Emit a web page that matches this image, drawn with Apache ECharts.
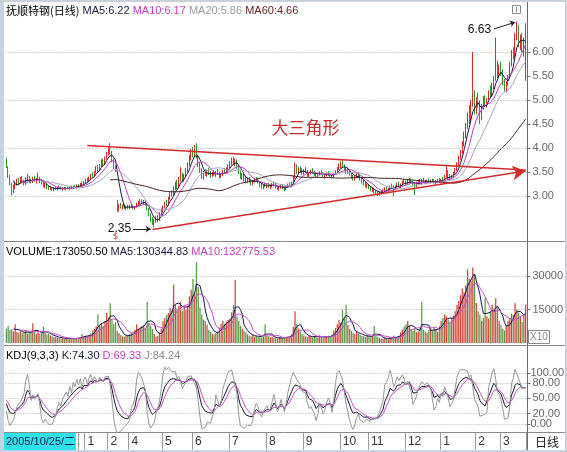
<!DOCTYPE html>
<html>
<head>
<meta charset="utf-8">
<title>抚顺特钢 日线</title>
<script src="https://cdn.jsdelivr.net/npm/echarts@6/dist/echarts.min.js"></script>
<style>
  html, body { margin: 0; padding: 0; background: #fff; }
  #chart { width: 567px; height: 452px; }
</style>
</head>
<body>
<div id="chart"></div>
<script>
// month blocks of the bottom date bar (index of first bar, label)
const monthStarts = [0, 5, 25, 45, 58, 70, 89, 106, 127, 148, 169, 190, 206, 227, 247, 267, 281];
const monthLabels = ['', '', '', '1', '2', '4', '5', '6', '7', '8', '9', '10', '11', '12', '1', '2', '3'];

// daily bars, 2005/10/25 .. 2007/03
const opens = [
  3.76,3.60,3.40,3.24,3.10,3.20,3.26,3.33,3.27,3.36, 3.30,3.25,3.35,3.40,3.31,3.29,3.37,3.33,3.35,3.38,
  3.30,3.26,3.22,3.24,3.18,3.15,3.17,3.13,3.16,3.15, 3.18,3.17,3.14,3.16,3.15,3.17,3.15,3.19,3.16,3.20,
  3.18,3.22,3.20,3.25,3.23,3.29,3.33,3.30,3.38,3.44, 3.41,3.50,3.58,3.53,3.64,3.72,3.66,3.80,3.88,3.96,
  3.90,3.74,3.60,2.80,2.72,2.80,2.76,2.79,2.75,2.78, 2.76,2.79,2.77,2.74,2.78,2.84,2.87,2.90,2.86,2.89,
  2.82,2.72,2.60,2.50,2.44,2.48,2.55,2.50,2.64,2.70, 2.77,2.85,2.82,2.95,3.05,3.02,3.16,3.26,3.18,3.36,
  3.42,3.32,3.44,3.55,3.66,3.80,3.90,3.85,3.96,3.82, 3.64,3.52,3.40,3.48,3.45,3.52,3.47,3.42,3.48,3.45,
  3.50,3.46,3.40,3.46,3.52,3.49,3.57,3.63,3.68,3.76, 3.70,3.74,3.60,3.50,3.40,3.44,3.34,3.30,3.35,3.31,
  3.25,3.30,3.35,3.32,3.28,3.21,3.18,3.22,3.20,3.24, 3.19,3.22,3.25,3.23,3.18,3.15,3.18,3.21,3.16,3.14,
  3.20,3.23,3.20,3.28,3.38,3.62,3.50,3.56,3.52,3.47, 3.53,3.50,3.43,3.48,3.52,3.49,3.45,3.41,3.46,3.50,
  3.47,3.40,3.44,3.47,3.45,3.42,3.39,3.46,3.52,3.58, 3.64,3.68,3.62,3.55,3.50,3.54,3.45,3.39,3.35,3.40,
  3.45,3.41,3.34,3.29,3.25,3.20,3.22,3.16,3.12,3.15, 3.08,3.06,3.04,3.08,3.06,3.12,3.15,3.13,3.15,3.20,
  3.18,3.14,3.20,3.25,3.22,3.24,3.30,3.28,3.25,3.31, 3.34,3.28,3.24,3.20,3.27,3.30,3.34,3.32,3.30,3.27,
  3.31,3.29,3.32,3.30,3.28,3.31,3.33,3.30,3.34,3.32, 3.40,3.48,3.40,3.36,3.42,3.46,3.55,3.66,3.80,3.92,
  4.10,4.28,4.46,4.68,4.62,4.94,5.10,4.80,4.98,4.90, 4.62,4.88,5.02,4.92,5.00,5.16,5.12,5.30,5.44,5.70,
  5.52,5.68,5.56,5.36,5.24,5.34,5.48,5.76,5.98,5.92, 6.36,6.44,6.18,6.30,6.08,6.22
];
const highs = [
  3.80,3.62,3.44,3.28,3.24,3.30,3.36,3.38,3.40,3.42, 3.34,3.38,3.46,3.42,3.36,3.40,3.42,3.38,3.48,3.40,
  3.36,3.30,3.28,3.26,3.22,3.20,3.19,3.18,3.20,3.19, 3.22,3.20,3.18,3.19,3.18,3.19,3.20,3.22,3.21,3.23,
  3.24,3.25,3.27,3.30,3.31,3.36,3.38,3.40,3.46,3.50, 3.52,3.62,3.64,3.66,3.76,3.78,3.82,3.92,4.02,4.10,
  3.94,3.78,3.64,2.92,2.84,2.86,2.82,2.83,2.80,2.82, 2.81,2.84,2.80,2.79,2.86,2.90,2.94,2.93,2.92,2.91,
  2.85,2.75,2.64,2.56,2.52,2.58,2.60,2.66,2.74,2.80, 2.88,2.92,2.98,3.08,3.12,3.20,3.30,3.34,3.40,3.60,
  3.48,3.46,3.58,3.70,3.86,3.98,4.02,4.06,4.10,3.86, 3.70,3.58,3.52,3.56,3.54,3.58,3.52,3.50,3.54,3.52,
  3.56,3.50,3.48,3.55,3.58,3.60,3.66,3.72,3.80,3.82, 3.78,3.76,3.64,3.54,3.48,3.46,3.40,3.38,3.40,3.34,
  3.32,3.38,3.40,3.38,3.30,3.26,3.24,3.28,3.26,3.28, 3.24,3.27,3.30,3.28,3.22,3.20,3.24,3.25,3.20,3.22,
  3.26,3.28,3.30,3.42,3.70,3.66,3.60,3.62,3.58,3.56, 3.60,3.54,3.50,3.55,3.58,3.53,3.50,3.48,3.52,3.54,
  3.50,3.46,3.49,3.52,3.48,3.46,3.48,3.54,3.60,3.68, 3.72,3.76,3.66,3.60,3.58,3.56,3.48,3.44,3.42,3.48,
  3.50,3.44,3.38,3.34,3.30,3.26,3.25,3.20,3.18,3.17, 3.12,3.10,3.10,3.12,3.14,3.18,3.20,3.17,3.22,3.26,
  3.22,3.22,3.28,3.30,3.26,3.32,3.36,3.32,3.34,3.38, 3.36,3.32,3.28,3.30,3.34,3.36,3.36,3.38,3.34,3.33,
  3.36,3.34,3.36,3.35,3.33,3.36,3.38,3.36,3.40,3.44, 3.62,3.54,3.46,3.44,3.50,3.58,3.70,3.84,3.96,4.14,
  4.34,4.52,4.74,4.90,5.00,6.00,5.20,5.05,5.16,5.00, 4.92,5.08,5.10,5.04,5.20,5.30,5.36,5.50,6.30,5.82,
  5.74,5.80,5.64,5.44,5.40,5.52,5.80,6.04,6.10,6.40, 6.63,6.56,6.36,6.40,6.30,6.60
];
const lows = [
  3.58,3.38,3.22,3.02,3.06,3.14,3.22,3.24,3.25,3.28, 3.22,3.23,3.30,3.28,3.26,3.27,3.30,3.26,3.32,3.27,
  3.24,3.18,3.16,3.14,3.12,3.12,3.11,3.10,3.13,3.12, 3.15,3.13,3.11,3.13,3.12,3.14,3.13,3.15,3.14,3.17,
  3.16,3.18,3.19,3.21,3.22,3.26,3.28,3.29,3.34,3.38, 3.40,3.47,3.50,3.52,3.60,3.62,3.64,3.76,3.84,3.86,
  3.70,3.56,3.50,2.66,2.68,2.74,2.72,2.73,2.71,2.73, 2.72,2.75,2.72,2.71,2.76,2.80,2.83,2.84,2.82,2.80,
  2.70,2.58,2.46,2.40,2.35,2.44,2.45,2.48,2.60,2.66, 2.74,2.78,2.80,2.92,2.98,3.00,3.12,3.14,3.16,3.30,
  3.28,3.30,3.40,3.50,3.62,3.74,3.80,3.82,3.78,3.60, 3.48,3.36,3.34,3.42,3.40,3.44,3.38,3.40,3.42,3.40,
  3.44,3.36,3.38,3.42,3.46,3.47,3.54,3.58,3.64,3.66, 3.62,3.56,3.46,3.36,3.34,3.30,3.26,3.27,3.28,3.22,
  3.22,3.28,3.30,3.26,3.18,3.15,3.14,3.18,3.16,3.17, 3.14,3.18,3.20,3.16,3.12,3.11,3.15,3.14,3.10,3.12,
  3.17,3.18,3.19,3.26,3.36,3.46,3.46,3.48,3.44,3.44, 3.48,3.40,3.40,3.45,3.46,3.42,3.38,3.39,3.43,3.44,
  3.38,3.36,3.41,3.42,3.38,3.36,3.37,3.44,3.48,3.54, 3.58,3.60,3.52,3.46,3.46,3.42,3.36,3.32,3.32,3.38,
  3.38,3.32,3.26,3.22,3.18,3.16,3.14,3.10,3.08,3.05, 3.02,3.00,3.01,3.03,3.04,3.08,3.10,3.08,3.12,3.16,
  3.00,3.12,3.18,3.20,3.16,3.22,3.26,3.22,3.23,3.28, 3.26,3.22,3.02,3.18,3.24,3.25,3.24,3.28,3.24,3.25,
  3.27,3.26,3.28,3.26,3.24,3.28,3.28,3.26,3.30,3.30, 3.38,3.36,3.32,3.34,3.38,3.44,3.52,3.62,3.76,3.88,
  4.04,4.20,4.40,4.50,4.58,4.86,4.70,4.70,4.84,4.50, 4.58,4.80,4.86,4.84,4.96,5.06,5.08,5.22,5.40,5.46,
  5.48,5.50,5.30,5.18,5.16,5.30,5.44,5.70,5.84,5.88, 6.24,6.10,6.04,6.00,5.90,5.40
];
const closes = [
  3.62,3.42,3.26,3.10,3.20,3.26,3.33,3.27,3.36,3.30, 3.25,3.35,3.40,3.31,3.29,3.37,3.33,3.35,3.38,3.30,
  3.26,3.22,3.24,3.18,3.15,3.17,3.13,3.16,3.15,3.18, 3.17,3.14,3.16,3.15,3.17,3.15,3.19,3.16,3.20,3.18,
  3.22,3.20,3.25,3.23,3.29,3.33,3.30,3.38,3.44,3.41, 3.50,3.58,3.53,3.64,3.72,3.66,3.80,3.88,3.96,3.90,
  3.74,3.60,3.55,2.72,2.80,2.76,2.79,2.75,2.78,2.76, 2.79,2.77,2.74,2.78,2.84,2.87,2.90,2.86,2.89,2.82,
  2.72,2.60,2.50,2.44,2.48,2.55,2.50,2.64,2.70,2.77, 2.85,2.82,2.95,3.05,3.02,3.16,3.26,3.18,3.36,3.42,
  3.32,3.44,3.55,3.66,3.80,3.90,3.85,3.96,3.82,3.64, 3.52,3.40,3.48,3.45,3.52,3.47,3.42,3.48,3.45,3.50,
  3.46,3.40,3.46,3.52,3.49,3.57,3.63,3.68,3.76,3.70, 3.74,3.60,3.50,3.40,3.44,3.34,3.30,3.35,3.31,3.25,
  3.30,3.35,3.32,3.28,3.21,3.18,3.22,3.20,3.24,3.19, 3.22,3.25,3.23,3.18,3.15,3.18,3.21,3.16,3.14,3.20,
  3.23,3.20,3.28,3.38,3.62,3.50,3.56,3.52,3.47,3.53, 3.50,3.43,3.48,3.52,3.49,3.45,3.41,3.46,3.50,3.47,
  3.40,3.44,3.47,3.45,3.42,3.39,3.46,3.52,3.58,3.64, 3.68,3.62,3.55,3.50,3.54,3.45,3.39,3.35,3.40,3.45,
  3.41,3.34,3.29,3.25,3.20,3.22,3.16,3.12,3.15,3.08, 3.06,3.04,3.08,3.06,3.12,3.15,3.13,3.15,3.20,3.18,
  3.14,3.20,3.25,3.22,3.24,3.30,3.28,3.25,3.31,3.34, 3.28,3.24,3.20,3.27,3.30,3.28,3.32,3.30,3.27,3.31,
  3.29,3.32,3.30,3.28,3.31,3.33,3.30,3.34,3.32,3.40, 3.48,3.40,3.36,3.42,3.46,3.55,3.66,3.80,3.92,4.10,
  4.28,4.46,4.68,4.62,4.94,5.10,4.80,4.98,4.90,4.62, 4.88,5.02,4.92,5.00,5.16,5.12,5.30,5.44,5.70,5.52,
  5.68,5.56,5.36,5.24,5.34,5.48,5.76,5.98,5.92,6.36, 6.44,6.18,6.30,6.08,6.22,6.32
];
// volume in the axis unit (x10)
const volumes = [
  6500,7700,5800,6200,5200,8400,5000,4600,5400,4400, 4800,5600,4200,4600,5000,8900,5200,4300,4800,4000,
  4400,7300,4600,3800,4200,3400,3000,2600,2800,2400, 2200,2000,2300,1900,2100,1800,2000,1700,2200,1900,
  2400,2100,2600,4000,2800,3300,3000,3600,4200,5600, 6300,7400,12800,8000,9000,7600,9900,13500,11300,17900,
  10200,8400,9500,5500,4400,3600,3000,2800,3300,3600, 3800,4500,5200,6000,8400,6400,7000,7600,8000,6800,
  18600,9000,7700,6200,4000,2800,3200,4500,6400,9900, 11200,12600,13500,15800,14600,26200,17200,15400,16800,18400,
  14300,16200,15000,16600,21000,24000,28800,22500,36400,25200, 16000,12800,10500,9900,8200,6000,5000,4200,3800,4500,
  5200,7000,8600,9900,8800,9600,10400,11000,13800,17000, 28500,12000,9900,7800,6400,5500,4800,3800,3400,3000,
  3600,2800,3200,2600,3400,2400,3000,8400,3400,3000, 2600,2800,2400,2200,2000,2600,2300,2100,2500,2800,
  3000,2600,4000,7200,14300,8600,6500,5200,4000,3400, 3000,2700,3200,2900,2500,3100,2800,2400,3500,2600,
  2300,2900,2700,3300,3000,3800,5500,6800,8400,10500, 9000,15000,11000,17200,8200,6400,5500,4600,4000,5200,
  4300,3600,3200,3000,2800,3400,3000,2600,3200,7700, 3600,2600,2200,2000,1800,2400,2100,1700,2600,2200,
  3300,2800,2400,3000,4800,6000,7400,8400,9900,7600, 6400,5500,6800,4800,5200,6300,18600,6000,5200,4600,
  5800,6600,5400,7000,6200,5000,7600,9900,11200,12800, 12000,10500,9600,11000,12400,14300,17200,19000,21500,24500,
  22800,26000,33200,29000,28000,34000,31000,18000,14300,12800, 9900,11300,20500,12000,11000,14300,17200,15600,20100,16000,
  9900,8200,6400,5600,7800,9900,11300,13200,12600,17900, 15200,13600,11800,9400,13200,17305
];

const priceTicks = [3, 3.5, 4, 4.5, 5, 5.5, 6];
const priceGridLines = [3, 4, 5, 6];
const volTicks = [15000, 30000];
const kdjTicks = [0, 20, 50, 80, 100];
const kdjInner = [20, 50, 80];
const kdjOuter = [0, 100];

// hand drawn triangle on the picture: [bar, price] -> [bar, price]
const upperTrend = [[46, 4.05], [295, 3.54]];
const lowerTrend = [[83, 2.30], [295, 3.52]];

const UP = '#e02828', DOWN = '#2a9a2a';

function ma(src, n) {
  return src.map((v, i) => {
    if (i < n - 1) return '-';
    let s = 0;
    for (let k = i - n + 1; k <= i; k++) s += src[k];
    return +(s / n).toFixed(3);
  });
}

function calcKdj(n, m1, m2) {
  let k = 50, d = 50;
  const K = [], D = [], J = [];
  for (let i = 0; i < closes.length; i++) {
    const from = Math.max(0, i - n + 1);
    const hh = Math.max(...highs.slice(from, i + 1));
    const ll = Math.min(...lows.slice(from, i + 1));
    const rsv = hh === ll ? 50 : (closes[i] - ll) / (hh - ll) * 100;
    k = ((m1 - 1) * k + rsv) / m1;
    d = ((m2 - 1) * d + k) / m2;
    K.push(+k.toFixed(2));
    D.push(+d.toFixed(2));
    J.push(+(3 * k - 2 * d).toFixed(2));
  }
  return [K, D, J];
}

const cats = closes.map((_, i) => String(i));
const candles = closes.map((c, i) => [opens[i], c, lows[i], highs[i]]);
const [kLine, dLine, jLine] = calcKdj(9, 3, 3);

function header(y, parts) {
  const rich = {};
  const text = parts.map((p, i) => {
    rich['p' + i] = { fill: p[1], fontSize: p[2] || 11, fontFamily: p[3] || 'Liberation Sans' };
    return '{p' + i + '|' + p[0] + '}';
  }).join(' ');
  return {
    type: 'text', x: 6, y: y, z: 50,
    style: { text: text, rich: rich, fontSize: 11, fontFamily: 'Liberation Sans', verticalAlign: 'middle' }
  };
}

function hLine(y, x1, x2, color) {
  return { type: 'line', z: 40, shape: { x1: x1, y1: y, x2: x2, y2: y }, style: { stroke: color || '#8a8a8a', lineWidth: 1 } };
}

function dotted(values) {
  return values.map(v => ({ yAxis: v, symbol: 'none', label: { show: false },
    lineStyle: { color: '#a8a8a8', type: [1, 2], width: 1 } }));
}

const hiddenX = (g) => ({ type: 'category', gridIndex: g, data: cats, boundaryGap: true, show: false });
const rightY = (g, min, max, ticks, fmt, margin) => ({
  type: 'value', gridIndex: g, min: min, max: max, position: 'right',
  axisLine: { show: false },
  splitLine: { show: false },
  axisTick: { show: true, length: 4, customValues: ticks, lineStyle: { color: '#777' } },
  axisLabel: { customValues: ticks, formatter: fmt, hideOverlap: false, color: '#666', fontSize: 11,
    fontFamily: 'Liberation Sans', margin: margin || 6 }
});
const thin = (name, data, color, xi, yi) => ({
  name: name, type: 'line', xAxisIndex: xi, yAxisIndex: yi, data: data, showSymbol: false,
  lineStyle: { width: 1, color: color }, itemStyle: { color: color }, silent: true
});

const chart = echarts.init(document.getElementById('chart'));
chart.setOption({
  animation: false,
  backgroundColor: '#ffffff',
  grid: [
    { left: 5.5, width: 521, top: 4, height: 240, outerBoundsMode: 'none' },
    { left: 5.5, width: 521, top: 243, height: 100, outerBoundsMode: 'none' },
    { left: 5.5, width: 521, top: 347, height: 85, outerBoundsMode: 'none' },
    { left: 5.5, width: 521, top: 433, height: 17, outerBoundsMode: 'none' }
  ],
  xAxis: [
    hiddenX(0), hiddenX(1), hiddenX(2),
    {
      type: 'category', gridIndex: 3, data: cats, boundaryGap: true, position: 'top',
      axisLine: { show: false }, axisTick: { show: false },
      splitLine: { show: true, interval: (i) => monthStarts.indexOf(i) > 0, lineStyle: { color: '#9a9a9a', width: 1 } },
      axisLabel: {
        inside: true, margin: 3, align: 'left', padding: [0, 0, 0, 2],
        interval: (i) => monthStarts.indexOf(i) > 2,
        formatter: (v, i) => monthLabels[monthStarts.indexOf(i)] || '',
        color: '#333', fontSize: 12, fontFamily: 'Liberation Sans'
      }
    }
  ],
  yAxis: [
    rightY(0, 2, 7, priceTicks, v => v.toFixed(2)),
    rightY(1, 0, 45000, volTicks, v => String(v)),
    rightY(2, -16, 150.67, kdjInner, v => v.toFixed(2)),
    { type: 'value', gridIndex: 3, show: false },
    // second label set of the KDJ panel so that close labels are all kept
    rightY(2, -16, 150.67, kdjOuter, v => v.toFixed(2), 4)
  ],
  series: [
    {
      name: '日线', type: 'candlestick', xAxisIndex: 0, yAxisIndex: 0, data: candles,
      barWidth: '72%', silent: true,
      itemStyle: { color: UP, color0: DOWN, borderColor: UP, borderColor0: DOWN, borderWidth: 1 },
      markLine: {
        silent: true, symbol: 'none', animation: false,
        data: dotted(priceGridLines).concat([
          [
            { coord: upperTrend[0], symbol: 'none' },
            { coord: upperTrend[1], symbol: 'none', lineStyle: { color: '#d42a2a', width: 1.5, type: 'solid' }, label: { show: false } }
          ],
          [
            { coord: lowerTrend[0], symbol: 'none' },
            { coord: lowerTrend[1], symbol: 'arrow', symbolSize: [11, 13], lineStyle: { color: '#d42a2a', width: 1.5, type: 'solid' }, label: { show: false } }
          ],
          [
            { coord: [277, 6.48], symbol: 'none' },
            { coord: [289, 6.62], symbol: 'arrow', symbolSize: 5, lineStyle: { color: '#222', width: 1, type: 'solid' },
              label: { show: true, position: 'start', formatter: '6.63', color: '#111', fontSize: 12, fontFamily: 'Liberation Sans', distance: 3 } }
          ],
          [
            { coord: [72, 2.31], symbol: 'none' },
            { coord: [82, 2.31], symbol: 'arrow', symbolSize: 5, lineStyle: { color: '#222', width: 1, type: 'solid' },
              label: { show: true, position: 'start', formatter: '2.35', color: '#111', fontSize: 12, fontFamily: 'Liberation Sans', distance: 2 } }
          ]
        ])
      },
      markPoint: {
        silent: true, animation: false, symbol: 'circle', symbolSize: 0,
        data: [
          { coord: [170, 4.42], label: { show: true, position: 'inside', formatter: '大三角形', color: '#c42c28', fontSize: 17, fontFamily: 'Noto Sans CJK SC' } },
          { coord: [62, 2.15], label: { show: true, position: 'inside', formatter: '$', color: '#d03030', fontSize: 9, fontFamily: 'DejaVu Sans' } }
        ]
      }
    },
    thin('MA5', ma(closes, 5), '#151545', 0, 0),
    thin('MA10', ma(closes, 10), '#c23cc2', 0, 0),
    thin('MA20', ma(closes, 20), '#a8a2c2', 0, 0),
    thin('MA60', ma(closes, 60), '#4a2222', 0, 0),
    {
      name: 'VOLUME', type: 'bar', xAxisIndex: 1, yAxisIndex: 1, data: volumes, barWidth: '72%', silent: true,
      itemStyle: { color: (p) => closes[p.dataIndex] >= opens[p.dataIndex] ? '#d4463a' : '#5c9c4a' },
      markLine: { silent: true, symbol: 'none', animation: false, data: dotted(volTicks) }
    },
    thin('VMA5', ma(volumes, 5), '#151555', 1, 1),
    thin('VMA10', ma(volumes, 10), '#c450c8', 1, 1),
    Object.assign(thin('K', kLine, '#151535', 2, 2), {
      markLine: { silent: true, symbol: 'none', animation: false, data: dotted(kdjTicks) }
    }),
    thin('D', dLine, '#c450c8', 2, 2),
    thin('J', jLine, '#959595', 2, 2)
  ],
  graphic: [
    // outer frame
    { type: 'rect', z: 30, shape: { x: 0, y: 0, width: 4, height: 452 }, style: { fill: '#c5d2e4' } },
    { type: 'rect', z: 30, shape: { x: 0, y: 0, width: 567, height: 2 }, style: { fill: '#c9d0dc' } },
    { type: 'rect', z: 30, shape: { x: 0, y: 450, width: 567, height: 2 }, style: { fill: '#c5d2e4' } },
    { type: 'rect', z: 30, shape: { x: 565, y: 0, width: 2, height: 452 }, style: { fill: '#c9d0dc' } },
    // panel separators
    hLine(241.5, 4, 565), hLine(345.5, 4, 565), hLine(432.5, 4, 565),
    { type: 'line', z: 40, shape: { x1: 527.5, y1: 2, x2: 527.5, y2: 450 }, style: { stroke: '#6a6a6a', lineWidth: 1 } },
    // date box
    { type: 'rect', z: 45, shape: { x: 4, y: 433, width: 72, height: 17 }, style: { fill: '#2ee2ec' } },
    { type: 'line', z: 45, shape: { x1: 78.5, y1: 433, x2: 78.5, y2: 450 }, style: { stroke: '#9a9a9a', lineWidth: 1 } },
    { type: 'text', z: 46, x: 6, y: 442, style: { text: '2005/10/25/二', fill: '#10204a', fontSize: 11, fontFamily: 'Liberation Sans, Noto Sans CJK SC', verticalAlign: 'middle' } },
    { type: 'text', z: 46, x: 547, y: 442, style: { text: '日线', fill: '#222', fontSize: 12, fontFamily: 'Noto Sans CJK SC', align: 'center', verticalAlign: 'middle' } },
    // x10 box of the volume panel
    { type: 'rect', z: 45, shape: { x: 528.5, y: 330.5, width: 21, height: 13 }, style: { fill: '#fff', stroke: '#8a8a8a', lineWidth: 1 } },
    { type: 'text', z: 46, x: 539, y: 337, style: { text: 'X10', fill: '#888', fontSize: 10, fontFamily: 'Liberation Sans', align: 'center', verticalAlign: 'middle' } },
    // small window icon top right
    { type: 'rect', z: 45, shape: { x: 512.5, y: 5.5, width: 8, height: 8 }, style: { fill: '#fff', stroke: '#8a8a8a', lineWidth: 1 } },
    { type: 'line', z: 45, shape: { x1: 516.5, y1: 7, x2: 516.5, y2: 12 }, style: { stroke: '#8a8a8a', lineWidth: 1 } },
    // panel headers
    header(11, [['抚顺特钢(日线)', '#000', 11, 'Noto Sans CJK SC'], ['MA5:6.22', '#1a1a4a'], ['MA10:6.17', '#c43cc0'], ['MA20:5.86', '#9a9a9a'], ['MA60:4.66', '#6a2020']]),
    header(252, [['VOLUME:173050.50', '#000'], ['MA5:130344.83', '#1a1a4a'], ['MA10:132775.53', '#c43cc0']]),
    header(356, [['KDJ(9,3,3)', '#000'], ['K:74.30', '#1a1a4a'], ['D:69.33', '#c43cc0'], ['J:84.24', '#8a8a8a']])
  ]
});
</script>
</body>
</html>
